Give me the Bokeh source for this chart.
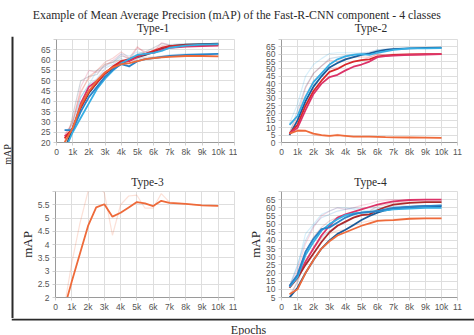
import math
from bokeh.plotting import figure
from bokeh.layouts import column, row
from bokeh.models import Range1d, FixedTicker, Label, Span
from bokeh.embed import file_html
from bokeh.resources import INLINE

# ---------------- data ----------------
steps = [500, 1000, 1500, 2000, 2500, 3000, 3500, 4000, 4500, 5000, 5500, 6000, 6500, 7000, 8000, 9000, 10000]
x_ticks = [0, 1000, 2000, 3000, 4000, 5000, 6000, 7000, 8000, 9000, 10000, 11000]
x_tick_labels = ["0", "1k", "2k", "3k", "4k", "5k", "6k", "7k", "8k", "9k", "10k", "11"]

# Type-1
t1_dark = [16, 27, 37, 44, 49, 53.5, 56, 58.5, 60, 61.5, 62.5, 64, 65.5, 66.8, 67.5, 67.8, 68]
t1_crimson = [23, 26, 39, 47, 50, 54, 56.5, 59, 59.5, 61.5, 63, 63.5, 65, 66, 66.5, 66.8, 67]
t1_red = [22, 27, 37, 44.5, 49, 53.5, 57, 59.5, 60.5, 62, 63, 64.5, 66, 66.8, 67.2, 67.4, 67.5]
t1_cyan = [16, 25, 32, 39, 46, 51, 55, 58.5, 60.5, 62.5, 63, 63.5, 64.5, 66, 67, 67.5, 67.7]
t1_blue = [26, 26, 35, 42, 47, 52, 55.5, 58, 57, 59.5, 60.5, 61, 61.5, 62, 62.5, 62.8, 63]
t1_orange = [20, 27, 38, 45, 50, 54, 56.5, 58, 58.5, 59.5, 60.5, 61, 61.3, 61.6, 62, 62, 61.8]
t1_dark_raw = [16, 33, 50, 52, 53, 58, 59, 62, 61, 63, 64, 66, 68, 67.5, 68, 68, 68]
t1_crimson_raw = [24, 29, 47, 55, 54, 57, 60, 63, 60, 66, 64, 64, 68.5, 67, 67, 67, 67]
t1_red_raw = [23, 30, 44, 52, 55, 59, 61, 64, 61, 66.5, 63, 65, 67, 67, 67.5, 67.5, 67.5]
t1_cyan_raw = [16, 30, 42, 48, 55, 57, 59, 63, 62, 64, 63, 64, 66, 67, 67.5, 67.7, 67.8]
t1_blue_raw = [26, 27, 42, 48, 51, 56, 58, 61, 56.5, 61, 61, 61.5, 62, 62.5, 63, 63, 63]
t1_orange_raw = [21, 31, 45, 51, 55, 58, 59, 60, 58, 61, 61.5, 61.5, 61.8, 62, 62, 62, 61.8]

# Type-2
t2_navy = [5, 15, 28, 38, 45, 51, 54, 56.5, 58, 59.5, 60.5, 62, 63, 63.5, 64, 64.3, 64.5]
t2_cyan = [12, 18, 31, 41, 47, 53, 56.5, 58.5, 59.5, 60, 59.5, 61, 62, 63, 64, 64, 64.2]
t2_red = [6, 12, 25, 35, 42, 48, 50, 53, 55, 56, 56.5, 58.5, 59, 59.5, 59.8, 60, 60]
t2_crimson = [6, 10, 22, 33, 40, 44.5, 46, 49, 51.5, 53, 55, 58, 58.7, 59, 59.5, 59.8, 60]
t2_orange = [6, 8, 8, 6, 5, 4.5, 5, 4.5, 4, 4, 4, 3.8, 3.6, 3.5, 3.4, 3.3, 3.2]
t2_navy_raw = [6, 22, 38, 47, 52, 57, 58, 59, 60, 61, 61.5, 63, 63.5, 64, 64.2, 64.5, 64.5]
t2_cyan_raw = [13, 26, 45, 53, 57, 60.5, 61, 61, 61, 60.5, 59.5, 63, 63, 64, 64, 64.2, 64.2]
t2_red_raw = [7, 18, 37, 47, 52, 56, 55, 57, 58, 58, 58, 60, 59.5, 60, 60, 60, 60]
t2_crimson_raw = [6, 15, 32, 42, 47, 50, 51, 53, 55, 56, 58, 60, 59.5, 59.5, 60, 60, 60]
t2_orange_raw = [6, 9, 8, 5, 4.5, 4, 5.5, 4, 4, 4, 4, 3.8, 3.5, 3.5, 3.4, 3.3, 3.2]

# Type-3
t3_orange = [1.5, 2.6, 3.65, 4.7, 5.4, 5.52, 5.05, 5.2, 5.4, 5.6, 5.55, 5.45, 5.65, 5.57, 5.53, 5.48, 5.46]
t3_orange_raw = [1.5, 3.3, 4.8, 6.0, 6.3, 5.95, 4.35, 5.5, 5.83, 5.86, 5.37, 5.37, 5.92, 5.6, 5.53, 5.48, 5.46]

# Type-4
t4_crimson = [12, 18, 27, 35, 43, 49, 54, 56, 57.5, 59, 60.5, 62, 63, 64, 64.8, 65, 65]
t4_darkred = [11, 17, 25, 32, 39, 45, 49, 51.5, 54, 55.5, 56, 58.5, 60.5, 62, 63, 63.5, 63.5]
t4_navy = [5, 11, 20, 28, 35, 40, 44, 46.5, 49.5, 52.5, 55, 57, 58.5, 59.5, 60.5, 61, 61]
t4_cyan = [11.5, 17.5, 31, 39, 46, 50, 53, 55.5, 56.5, 57, 57.5, 58, 58.5, 59, 59.5, 60, 60]
t4_blue = [12, 19, 33, 41, 47, 48, 51, 54, 56, 57, 57.5, 58, 59, 60, 60.5, 61, 61.5]
t4_orange = [7, 10, 20, 28, 35, 39.5, 43, 45, 47, 49, 50.5, 52, 52.3, 52.5, 53.3, 53.5, 53.5]
t4_crimson_raw = [12, 22, 38, 48, 55, 58, 60, 59, 60, 61.5, 62.5, 64, 64.5, 65, 65, 65, 65]
t4_darkred_raw = [11, 20, 33, 42, 48, 52, 54, 55, 57, 57, 58, 61, 62, 63, 63.5, 63.5, 63.5]
t4_navy_raw = [5, 15, 27, 36, 42, 46, 49, 51, 54, 56, 57, 59, 60, 60.5, 61, 61, 61]
t4_cyan_raw = [12, 24, 44, 50, 56, 58, 60, 60, 59, 58, 58.5, 59, 59.5, 59.5, 60, 60, 60]
t4_blue_raw = [12, 25, 40, 49, 54, 56, 58, 59, 60, 59.5, 60, 60, 60.5, 61, 61, 61.5, 61.5]
t4_orange_raw = [7, 14, 28, 35, 41, 44, 46, 46.5, 49, 51, 52, 52.5, 52.5, 53, 53.5, 53.5, 53.5]

t1_yticks = [20, 25, 30, 35, 40, 45, 50, 55, 60, 65, 70]
t2_yticks = [0, 5, 10, 15, 20, 25, 30, 35, 40, 45, 50, 55, 60, 65, 70]
t3_yticks = [2, 2.5, 3, 3.5, 4, 4.5, 5, 5.5, 6]
t4_yticks = [5, 10, 15, 20, 25, 30, 35, 40, 45, 50, 55, 60, 65, 70]

panel_titles = ["Type-1", "Type-2", "Type-3", "Type-4"]
main_title = "Example of Mean Average Precision (mAP) of the Fast-R-CNN component - 4 classes"

# ---------------- styling ----------------
DARK = "#2d3f58"
NAVY = "#1a5c9a"
BLUE = "#2a84c8"
CYAN = "#36aee4"
RED = "#d8282a"
DARKRED = "#ad2a2c"
CRIMSON = "#dc3368"
ORANGE = "#ee6a3a"

SERIF = "Liberation Serif"
SANS = "Liberation Sans"
TXT = "#2a2a2a"


def panel(w, h, bl, br, bt, bb, yr, yticks, series, ylabel=None):
    p = figure(width=w, height=h, output_backend="svg", toolbar_location=None,
               x_range=Range1d(0, 11000), y_range=Range1d(yr[0], yr[1]),
               min_border_left=bl, min_border_right=br, min_border_top=bt, min_border_bottom=bb)
    p.outline_line_color = "#dddddd"
    p.background_fill_color = "white"
    p.border_fill_color = "white"
    p.xaxis.ticker = FixedTicker(ticks=x_ticks)
    p.xaxis.major_label_overrides = {t: l for t, l in zip(x_ticks, x_tick_labels)}
    p.yaxis.ticker = FixedTicker(ticks=yticks)
    ov = {}
    for t in yticks:
        ov[t] = ("%g" % t) if t != yticks[-1] else ""
    p.yaxis.major_label_overrides = ov
    for ax in (p.xaxis, p.yaxis):
        ax.axis_line_color = "#9a9a9a"
        ax.major_tick_line_color = "#cfcfcf"
        ax.major_tick_in = 0
        ax.major_tick_out = 3
        ax.minor_tick_line_color = None
        ax.major_label_text_font = SANS
        ax.major_label_text_font_size = "8.5px"
        ax.major_label_text_color = "#555555"
    p.xaxis.major_label_standoff = 1
    p.yaxis.major_label_standoff = 3
    p.xgrid.grid_line_color = "#dedede"
    p.ygrid.grid_line_color = "#dedede"
    if ylabel:
        p.yaxis.axis_label = ylabel
        p.yaxis.axis_label_text_font = SERIF
        p.yaxis.axis_label_text_font_style = "normal"
        p.yaxis.axis_label_text_font_size = "13px"
        p.yaxis.axis_label_text_color = TXT
        p.yaxis.axis_label_standoff = 0
    for ys, col in series:
        p.line(steps, ys[1], line_color=col, line_width=1.2, line_alpha=0.2)
    for ys, col in series:
        p.line(steps, ys[0], line_color=col, line_width=1.8)
    return p


def blank(w, h, bl=0, bt=0):
    p = figure(width=w, height=h, output_backend="svg", toolbar_location=None,
               x_range=Range1d(0, w - bl), y_range=Range1d(0, h - bt),
               min_border_left=bl, min_border_right=0, min_border_top=bt, min_border_bottom=0,
               x_axis_location=None, y_axis_location=None)
    p.grid.visible = False
    p.outline_line_color = None
    p.background_fill_color = "white"
    p.border_fill_color = "white"
    return p


def lbl(p, x, y, text, size, angle=0.0, baseline="middle"):
    p.add_layout(Label(x=x, y=y, text=text, angle=angle, text_align="center", text_baseline=baseline,
                       text_font=SERIF, text_font_size=size, text_color=TXT))


# row 1 panels (canvas rows 36..160)
f1 = panel(221, 124, 40, 3, 0, 18, (20, 70), t1_yticks, [
    ((t1_dark, t1_dark_raw), DARK), ((t1_crimson, t1_crimson_raw), CRIMSON),
    ((t1_red, t1_red_raw), RED), ((t1_cyan, t1_cyan_raw), CYAN),
    ((t1_blue, t1_blue_raw), BLUE), ((t1_orange, t1_orange_raw), ORANGE)])
f2 = panel(237, 124, 44, 17, 3, 15, (0, 70), t2_yticks, [
    ((t2_navy, t2_navy_raw), NAVY), ((t2_cyan, t2_cyan_raw), CYAN),
    ((t2_red, t2_red_raw), RED), ((t2_crimson, t2_crimson_raw), CRIMSON),
    ((t2_orange, t2_orange_raw), ORANGE)])
# row 2 panels (canvas rows 190..318)
f3 = panel(221, 128, 39, 3, 1, 21, (2, 6), t3_yticks, [
    ((t3_orange, t3_orange_raw), ORANGE)], ylabel="mAP")
f4 = panel(237, 128, 44, 17, 0, 21, (5, 70), t4_yticks, [
    ((t4_crimson, t4_crimson_raw), CRIMSON), ((t4_darkred, t4_darkred_raw), DARKRED),
    ((t4_navy, t4_navy_raw), NAVY), ((t4_cyan, t4_cyan_raw), CYAN),
    ((t4_blue, t4_blue_raw), BLUE), ((t4_orange, t4_orange_raw), ORANGE)], ylabel="mAP")

# title strip (main title + first-row panel titles)
top = blank(474, 36)
lbl(top, 231, 22, main_title, "11.8px")
lbl(top, 145, 9, panel_titles[0], "11.5px")
lbl(top, 368, 9, panel_titles[1], "11.5px")

# strip with second-row panel titles
mid_titles = blank(460, 30)
lbl(mid_titles, 131, 9, panel_titles[2], "11.5px")
lbl(mid_titles, 354, 9, panel_titles[3], "11.5px")

# left strip with shared y label and frame line
left = blank(16, 282)
left.add_layout(Span(location=12, dimension="height", line_color="#2a2a2a", line_width=2))
lbl(left, 6.5, 282 - (154 - 36), "mAP", "10px", angle=math.pi / 2)

# bottom strip with shared x label and frame line
bottom = blank(474, 17, bl=11)
bottom.add_layout(Span(location=16, dimension="width", line_color="#2a2a2a", line_width=2))
lbl(bottom, 237, 6, "Epochs", "12px")

right_block = column(row(f1, f2), mid_titles, row(f3, f4))
layout = column(top, row(left, right_block), bottom)

open("out.html", "w").write(file_html(layout, INLINE))
